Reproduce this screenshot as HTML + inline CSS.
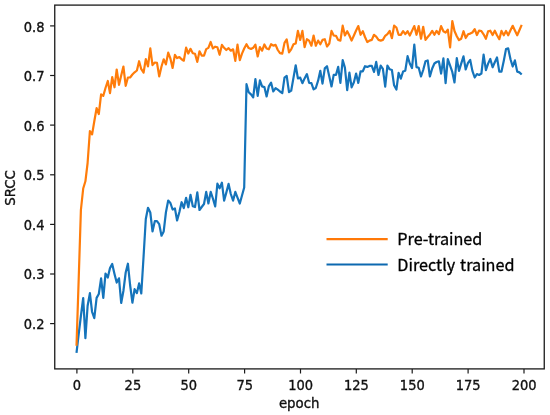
<!DOCTYPE html>
<html><head><meta charset="utf-8"><title>SRCC vs epoch</title>
<style>html,body{margin:0;padding:0;background:#fff}svg{display:block}</style>
</head><body>
<svg width="550" height="415" viewBox="0 0 550 415">
<rect width="550" height="415" fill="#fff"/>
<g fill="none" stroke-linejoin="round" stroke-linecap="butt" stroke-width="2.2">
<polyline stroke="#1574bb" points="76.5,352.9 78.7,334.0 80.9,316.0 83.2,298.0 85.4,338.1 87.6,306.0 89.9,293.1 92.1,312.0 94.3,318.2 96.6,297.9 98.8,294.0 101.1,278.3 103.3,297.9 105.5,273.6 107.8,277.5 110.0,268.1 112.2,264.0 114.5,273.9 116.7,282.6 119.0,278.3 121.2,303.0 123.4,291.0 125.7,272.5 127.9,263.7 130.1,285.0 132.4,302.7 134.6,289.2 136.9,293.1 139.1,283.4 141.3,293.5 143.6,256.0 145.8,219.0 148.0,207.8 150.3,212.5 152.5,231.4 154.8,221.2 157.0,221.2 159.2,224.1 161.5,235.7 163.7,231.4 165.9,212.5 168.2,200.5 170.4,203.0 172.6,209.5 174.9,208.4 177.1,220.5 179.4,212.0 181.6,202.2 183.8,208.1 186.1,197.8 188.3,207.3 190.5,194.8 192.8,206.2 195.0,207.0 197.3,192.3 199.5,210.0 201.7,207.0 204.0,204.0 206.2,191.9 208.4,203.5 210.7,191.9 212.9,198.5 215.2,206.5 217.4,183.6 219.6,188.3 221.9,182.7 224.1,200.6 226.3,192.6 228.6,183.9 230.8,194.0 233.1,200.6 235.3,191.9 237.5,197.7 239.8,203.5 242.0,195.5 244.2,187.5 246.5,84.2 248.7,92.2 251.0,94.4 253.2,97.3 255.4,79.1 257.7,95.8 259.9,80.3 262.1,86.4 264.4,87.1 266.6,96.5 268.8,86.4 271.1,82.7 273.3,91.5 275.6,88.1 277.8,89.6 280.0,91.5 282.3,93.2 284.5,77.6 286.7,75.9 289.0,92.2 291.2,90.7 293.5,77.6 295.7,65.3 297.9,78.4 300.2,77.6 302.4,83.2 304.6,78.4 306.9,74.1 309.1,82.8 311.4,83.2 313.6,89.4 315.8,88.0 318.1,80.7 320.3,70.8 322.5,83.6 324.8,68.4 327.0,66.2 329.3,76.4 331.5,86.5 333.7,74.9 336.0,74.9 338.2,66.9 340.4,82.9 342.7,60.1 344.9,67.6 347.2,90.2 349.4,72.7 351.6,87.3 353.9,82.2 356.1,73.5 358.3,82.9 360.6,71.3 362.8,71.3 365.0,66.2 367.3,66.9 369.5,65.9 371.8,65.9 374.0,72.0 376.2,61.9 378.5,75.0 380.7,65.6 382.9,68.8 385.2,86.6 387.4,65.6 389.7,69.3 391.9,70.0 394.1,85.3 396.4,89.6 398.6,72.9 400.8,78.7 403.1,71.5 405.3,70.7 407.6,56.2 409.8,63.5 412.0,68.1 414.3,44.5 416.5,67.1 418.7,67.8 421.0,76.5 423.2,70.0 425.5,61.3 427.7,60.5 429.9,76.5 432.2,68.5 434.4,63.5 436.6,62.0 438.9,61.3 441.1,73.6 443.4,58.4 445.6,83.1 447.8,59.1 450.1,65.7 452.3,71.9 454.5,82.4 456.8,58.1 459.0,70.9 461.2,63.6 463.5,56.4 465.7,69.5 468.0,62.9 470.2,60.0 472.4,70.9 474.7,77.5 476.9,74.1 479.1,75.0 481.4,73.5 483.6,54.6 485.9,70.2 488.1,63.6 490.3,59.0 492.6,67.3 494.8,62.2 497.0,57.5 499.3,71.6 501.5,71.6 503.8,60.7 506.0,49.1 508.2,48.4 510.5,59.3 512.7,66.5 514.9,60.4 517.2,71.6 519.4,72.4 521.7,74.5"/>
<polyline stroke="#ff7c0a" points="76.5,345.8 78.7,279.0 80.9,210.0 83.2,188.5 85.4,181.3 87.6,163.0 89.9,131.0 92.1,134.4 94.3,121.3 96.6,108.2 98.8,114.0 101.1,94.3 103.3,95.8 105.5,88.0 107.8,81.0 110.0,93.1 112.2,77.1 114.5,87.3 116.7,69.5 119.0,84.8 121.2,75.6 123.4,66.5 125.7,85.8 127.9,77.5 130.1,77.5 132.4,74.5 134.6,72.3 136.9,70.5 139.1,61.2 141.3,69.2 143.6,72.5 145.8,59.1 148.0,66.4 150.3,48.3 152.5,65.1 154.8,62.5 157.0,62.9 159.2,76.4 161.5,66.5 163.7,59.3 165.9,64.4 168.2,52.7 170.4,58.5 172.6,68.0 174.9,54.9 177.1,58.1 179.4,57.1 181.6,59.3 183.8,60.7 186.1,47.6 188.3,53.5 190.5,48.8 192.8,53.2 195.0,53.7 197.3,61.9 199.5,51.3 201.7,55.6 204.0,55.6 206.2,49.1 208.4,47.9 210.7,42.0 212.9,48.5 215.2,46.7 217.4,47.3 219.6,54.8 221.9,44.9 224.1,47.8 226.3,50.0 228.6,48.1 230.8,50.7 233.1,49.3 235.3,60.9 237.5,44.6 239.8,60.2 242.0,53.6 244.2,48.5 246.5,44.2 248.7,48.1 251.0,49.0 253.2,47.8 255.4,44.6 257.7,56.5 259.9,47.1 262.1,50.7 264.4,44.5 266.6,48.5 268.8,49.3 271.1,44.2 273.3,45.6 275.6,44.9 277.8,50.0 280.0,53.2 282.3,53.6 284.5,42.9 286.7,39.4 289.0,52.3 291.2,49.4 293.5,44.3 295.7,43.5 297.9,30.9 300.2,39.9 302.4,30.9 304.6,47.2 306.9,39.2 309.1,40.6 311.4,45.7 313.6,35.5 315.8,45.7 318.1,40.6 320.3,44.3 322.5,39.9 324.8,39.2 327.0,46.5 329.3,43.5 331.5,30.9 333.7,35.5 336.0,35.8 338.2,39.9 340.4,40.6 342.7,25.7 344.9,35.5 347.2,31.2 349.4,35.5 351.6,40.6 353.9,35.5 356.1,30.5 358.3,26.1 360.6,34.8 362.8,31.2 365.0,37.0 367.3,42.1 369.5,40.6 371.8,39.9 374.0,34.8 376.2,36.7 378.5,39.9 380.7,40.6 382.9,39.9 385.2,35.8 387.4,34.1 389.7,30.9 391.9,38.2 394.1,25.7 396.4,27.5 398.6,34.8 400.8,34.8 403.1,31.2 405.3,34.1 407.6,31.2 409.8,35.5 412.0,30.9 414.3,26.1 416.5,34.8 418.7,26.1 421.0,38.7 423.2,26.8 425.5,39.9 427.7,37.0 429.9,34.5 432.2,30.9 434.4,34.8 436.6,30.9 438.9,34.1 441.1,26.1 443.4,31.2 445.6,32.6 447.8,29.7 450.1,47.3 452.3,21.0 454.5,31.0 456.8,36.3 459.0,40.1 461.2,38.7 463.5,31.2 465.7,38.0 468.0,34.3 470.2,33.6 472.4,32.5 474.7,29.2 476.9,35.0 479.1,30.5 481.4,31.1 483.6,34.3 485.9,38.8 488.1,31.4 490.3,30.7 492.6,35.0 494.8,30.7 497.0,35.3 499.3,39.2 501.5,30.9 503.8,35.3 506.0,30.9 508.2,35.3 510.5,30.2 512.7,25.8 514.9,30.5 517.2,35.3 519.4,30.2 521.7,24.9"/>
</g>
<rect x="54.75" y="5.1" width="489.5" height="363.8" fill="none" stroke="#1a1a1a" stroke-width="1.3"/>
<g stroke="#1a1a1a" stroke-width="1.2">
<line x1="76.9" y1="368.9" x2="76.9" y2="373.5"/>
<line x1="132.8" y1="368.9" x2="132.8" y2="373.5"/>
<line x1="188.7" y1="368.9" x2="188.7" y2="373.5"/>
<line x1="244.6" y1="368.9" x2="244.6" y2="373.5"/>
<line x1="300.5" y1="368.9" x2="300.5" y2="373.5"/>
<line x1="356.3" y1="368.9" x2="356.3" y2="373.5"/>
<line x1="412.2" y1="368.9" x2="412.2" y2="373.5"/>
<line x1="468.1" y1="368.9" x2="468.1" y2="373.5"/>
<line x1="524.0" y1="368.9" x2="524.0" y2="373.5"/>
<line x1="50.1" y1="323.6" x2="54.75" y2="323.6"/>
<line x1="50.1" y1="274.0" x2="54.75" y2="274.0"/>
<line x1="50.1" y1="224.4" x2="54.75" y2="224.4"/>
<line x1="50.1" y1="174.8" x2="54.75" y2="174.8"/>
<line x1="50.1" y1="125.1" x2="54.75" y2="125.1"/>
<line x1="50.1" y1="75.5" x2="54.75" y2="75.5"/>
<line x1="50.1" y1="25.9" x2="54.75" y2="25.9"/>
</g>
<g font-family="'DejaVu Sans', 'Liberation Sans', sans-serif" font-size="13.3" fill="#111" stroke="#111" stroke-width="0.35">
<text transform="translate(77.0,389.95) scale(0.96,1)" text-anchor="middle" font-size="13.6">0</text>
<text transform="translate(132.9,389.95) scale(0.96,1)" text-anchor="middle" font-size="13.6">25</text>
<text transform="translate(188.8,389.95) scale(0.96,1)" text-anchor="middle" font-size="13.6">50</text>
<text transform="translate(244.7,389.95) scale(0.96,1)" text-anchor="middle" font-size="13.6">75</text>
<text transform="translate(300.6,389.95) scale(0.96,1)" text-anchor="middle" font-size="13.6">100</text>
<text transform="translate(356.4,389.95) scale(0.96,1)" text-anchor="middle" font-size="13.6">125</text>
<text transform="translate(412.3,389.95) scale(0.96,1)" text-anchor="middle" font-size="13.6">150</text>
<text transform="translate(468.2,389.95) scale(0.96,1)" text-anchor="middle" font-size="13.6">175</text>
<text transform="translate(524.1,389.95) scale(0.96,1)" text-anchor="middle" font-size="13.6">200</text>
<text transform="translate(44.5,328.5) scale(0.96,1)" text-anchor="end" font-size="13.6">0.2</text>
<text transform="translate(44.5,279.1) scale(0.96,1)" text-anchor="end" font-size="13.6">0.3</text>
<text transform="translate(44.5,229.6) scale(0.96,1)" text-anchor="end" font-size="13.6">0.4</text>
<text transform="translate(44.5,180.1) scale(0.96,1)" text-anchor="end" font-size="13.6">0.5</text>
<text transform="translate(44.5,130.6) scale(0.96,1)" text-anchor="end" font-size="13.6">0.6</text>
<text transform="translate(44.5,81.2) scale(0.96,1)" text-anchor="end" font-size="13.6">0.7</text>
<text transform="translate(44.5,31.7) scale(0.96,1)" text-anchor="end" font-size="13.6">0.8</text>
<text x="299.2" y="407.5" text-anchor="middle">epoch</text>
<text transform="translate(15.1,188) rotate(-90)" text-anchor="middle">SRCC</text>
</g>
<line x1="326.5" y1="239.2" x2="387.7" y2="239.2" stroke="#ff7808" stroke-width="2.2"/>
<line x1="326.5" y1="264.5" x2="387.7" y2="264.5" stroke="#0c69b0" stroke-width="2.2"/>
<g font-family="'Noto Sans CJK SC', 'Liberation Sans', sans-serif" font-size="16.2" fill="#000" stroke="#000" stroke-width="0.3" word-spacing="1.3">
<text x="397.3" y="244.7">Pre-trained</text>
<text x="397.3" y="270.6">Directly trained</text>
</g>
</svg>
</body></html>
